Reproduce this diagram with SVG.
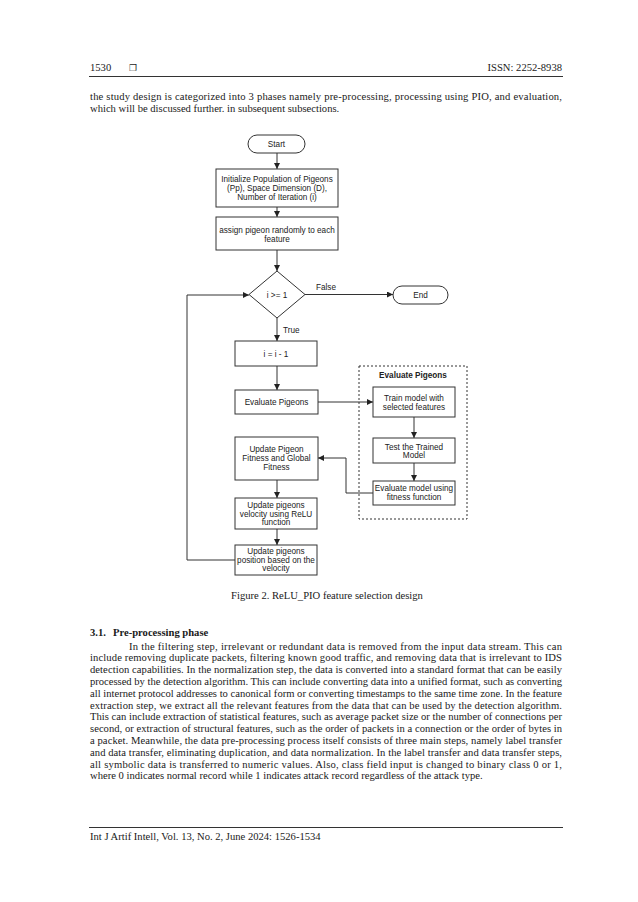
<svg xmlns="http://www.w3.org/2000/svg" width="638" height="902" viewBox="0 0 638 902">
<style>
.pg{font-family:"Liberation Serif","Times New Roman",serif;font-size:10.6px;fill:#1a1a1a}
.fc{font-family:"Liberation Sans",Arial,sans-serif;font-size:8.2px;fill:#222;text-anchor:middle}
.lbl{font-family:"Liberation Sans",Arial,sans-serif;font-size:8.2px;fill:#222;text-anchor:start}
.box{fill:#fff;stroke:#333;stroke-width:1}
.ln{fill:none;stroke:#333;stroke-width:1}
</style>
<defs>
<marker id="ah" viewBox="0 0 10 10" refX="10" refY="5" markerWidth="6" markerHeight="6" orient="auto" markerUnits="userSpaceOnUse">
<path d="M0,0 L10,5 L0,10 z" fill="#222"/>
</marker>
</defs>
<rect width="638" height="902" fill="#fff"/>

<g id="page-header">
<text class="pg" x="90" y="71">1530</text>
<text x="129" y="71" font-family="DejaVu Sans,sans-serif" font-size="9" fill="#1a1a1a">❐</text>
<text class="pg" x="562" y="71" text-anchor="end">ISSN: 2252-8938</text>
<line x1="89" y1="76.5" x2="563" y2="76.5" stroke="#333" stroke-width="1.2"/>
</g>

<g id="intro">
<text class="pg" x="90" y="100" textLength="472" lengthAdjust="spacing">the study design is categorized into 3 phases namely pre-processing, processing using PIO, and evaluation,</text>
<text class="pg" x="90" y="112">which will be discussed further. in subsequent subsections.</text>
</g>

<g id="connectors">
<line class="ln" x1="277" y1="153" x2="277" y2="169" marker-end="url(#ah)"/>
<line class="ln" x1="277" y1="207" x2="277" y2="217" marker-end="url(#ah)"/>
<line class="ln" x1="277" y1="250" x2="277" y2="271" marker-end="url(#ah)"/>
<line class="ln" x1="305" y1="294.5" x2="393" y2="294.5" marker-end="url(#ah)"/>
<line class="ln" x1="277" y1="318" x2="277" y2="341" marker-end="url(#ah)"/>
<line class="ln" x1="277" y1="366" x2="277" y2="390" marker-end="url(#ah)"/>
<line class="ln" x1="318" y1="402" x2="373" y2="402" marker-end="url(#ah)"/>
<line class="ln" x1="277" y1="480" x2="277" y2="498" marker-end="url(#ah)"/>
<line class="ln" x1="277" y1="529" x2="277" y2="545" marker-end="url(#ah)"/>
<polyline class="ln" points="235,560 187,560 187,295 249,295" marker-end="url(#ah)"/>
<line class="ln" x1="414" y1="417" x2="414" y2="438" marker-end="url(#ah)"/>
<line class="ln" x1="414" y1="463" x2="414" y2="481" marker-end="url(#ah)"/>
<polyline class="ln" points="373,493 346,493 346,458 318,458" marker-end="url(#ah)"/>
<text class="lbl" x="316" y="290">False</text>
<text class="lbl" x="283" y="333">True</text>
</g>

<g id="group-evaluate">
<rect x="359" y="366" width="108" height="153" fill="none" stroke="#333" stroke-width="1" stroke-dasharray="2,2"/>
<text class="fc" x="413" y="378" font-weight="bold" font-size="8">Evaluate Pigeons</text>
</g>

<g id="start">
<rect class="box" x="248" y="135" width="57" height="18" rx="9"/>
<text class="fc" x="276.5" y="147">Start</text>
</g>
<g id="init">
<rect class="box" x="216" y="169" width="122" height="38"/>
<text class="fc" x="277" y="182">Initialize Population of Pigeons</text>
<text class="fc" x="277" y="191">(Pp), Space Dimension (D),</text>
<text class="fc" x="277" y="200">Number of Iteration (i)</text>
</g>
<g id="assign">
<rect class="box" x="216" y="217" width="122" height="33"/>
<text class="fc" x="277" y="233">assign pigeon randomly to each</text>
<text class="fc" x="277" y="242">feature</text>
</g>
<g id="decision">
<polygon class="box" points="277,271 305,294.5 277,318 249,294.5"/>
<text class="fc" x="277" y="297.5">i &gt;= 1</text>
</g>
<g id="end">
<rect class="box" x="393" y="286" width="55" height="18" rx="9"/>
<text class="fc" x="420.5" y="298">End</text>
</g>
<g id="decrement">
<rect class="box" x="235" y="341" width="82" height="25"/>
<text class="fc" x="276" y="356.5">i = i - 1</text>
</g>
<g id="evaluate">
<rect class="box" x="235" y="390" width="83" height="24"/>
<text class="fc" x="276.5" y="405">Evaluate Pigeons</text>
</g>
<g id="fitness">
<rect class="box" x="235" y="437" width="83" height="43"/>
<text class="fc" x="276.5" y="452">Update Pigeon</text>
<text class="fc" x="276.5" y="461">Fitness and Global</text>
<text class="fc" x="276.5" y="470">Fitness</text>
</g>
<g id="velocity">
<rect class="box" x="235" y="498" width="82" height="31"/>
<text class="fc" x="276" y="508">Update pigeons</text>
<text class="fc" x="276" y="516.5">velocity using ReLU</text>
<text class="fc" x="276" y="525">function</text>
</g>
<g id="position">
<rect class="box" x="235" y="545" width="82" height="30"/>
<text class="fc" x="276" y="554">Update pigeons</text>
<text class="fc" x="276" y="562.5">position based on the</text>
<text class="fc" x="276" y="571">velocity</text>
</g>
<g id="train">
<rect class="box" x="373" y="387" width="82" height="30"/>
<text class="fc" x="414" y="401">Train model with</text>
<text class="fc" x="414" y="410">selected features</text>
</g>
<g id="test">
<rect class="box" x="373" y="438" width="82" height="25"/>
<text class="fc" x="414" y="449.5">Test the Trained</text>
<text class="fc" x="414" y="458">Model</text>
</g>
<g id="evalmodel">
<rect class="box" x="373" y="481" width="82" height="24"/>
<text class="fc" x="414" y="490.5">Evaluate model using</text>
<text class="fc" x="414" y="499.5">fitness function</text>
</g>

<g id="caption">
<text class="pg" x="327" y="598.5" text-anchor="middle">Figure 2. ReLU_PIO feature selection design</text>
</g>

<g id="section">
<text class="pg" x="90" y="635.5" font-weight="bold">3.1.<tspan x="113">Pre-processing phase</tspan></text>
<text class="pg" x="129" y="649.5" textLength="433" lengthAdjust="spacing">In the filtering step, irrelevant or redundant data is removed from the input data stream. This can</text>
<text class="pg" x="90" y="661.3" textLength="472" lengthAdjust="spacing">include removing duplicate packets, filtering known good traffic, and removing data that is irrelevant to IDS</text>
<text class="pg" x="90" y="673.1" textLength="472" lengthAdjust="spacing">detection capabilities. In the normalization step, the data is converted into a standard format that can be easily</text>
<text class="pg" x="90" y="684.9" textLength="472" lengthAdjust="spacing">processed by the detection algorithm. This can include converting data into a unified format, such as converting</text>
<text class="pg" x="90" y="696.7" textLength="472" lengthAdjust="spacing">all internet protocol addresses to canonical form or converting timestamps to the same time zone. In the feature</text>
<text class="pg" x="90" y="708.5" textLength="472" lengthAdjust="spacing">extraction step, we extract all the relevant features from the data that can be used by the detection algorithm.</text>
<text class="pg" x="90" y="720.3" textLength="472" lengthAdjust="spacing">This can include extraction of statistical features, such as average packet size or the number of connections per</text>
<text class="pg" x="90" y="732.1" textLength="472" lengthAdjust="spacing">second, or extraction of structural features, such as the order of packets in a connection or the order of bytes in</text>
<text class="pg" x="90" y="743.9" textLength="472" lengthAdjust="spacing">a packet. Meanwhile, the data pre-processing process itself consists of three main steps, namely label transfer</text>
<text class="pg" x="90" y="755.7" textLength="472" lengthAdjust="spacing">and data transfer, eliminating duplication, and data normalization. In the label transfer and data transfer steps,</text>
<text class="pg" x="90" y="767.5" textLength="472" lengthAdjust="spacing">all symbolic data is transferred to numeric values. Also, class field input is changed to binary class 0 or 1,</text>
<text class="pg" x="90" y="779.3">where 0 indicates normal record while 1 indicates attack record regardless of the attack type.</text>
</g>

<g id="page-footer">
<line x1="89" y1="827.5" x2="563" y2="827.5" stroke="#333" stroke-width="1.2"/>
<text class="pg" x="90" y="840">Int J Artif Intell, Vol. 13, No. 2, June 2024: 1526-1534</text>
</g>
</svg>
